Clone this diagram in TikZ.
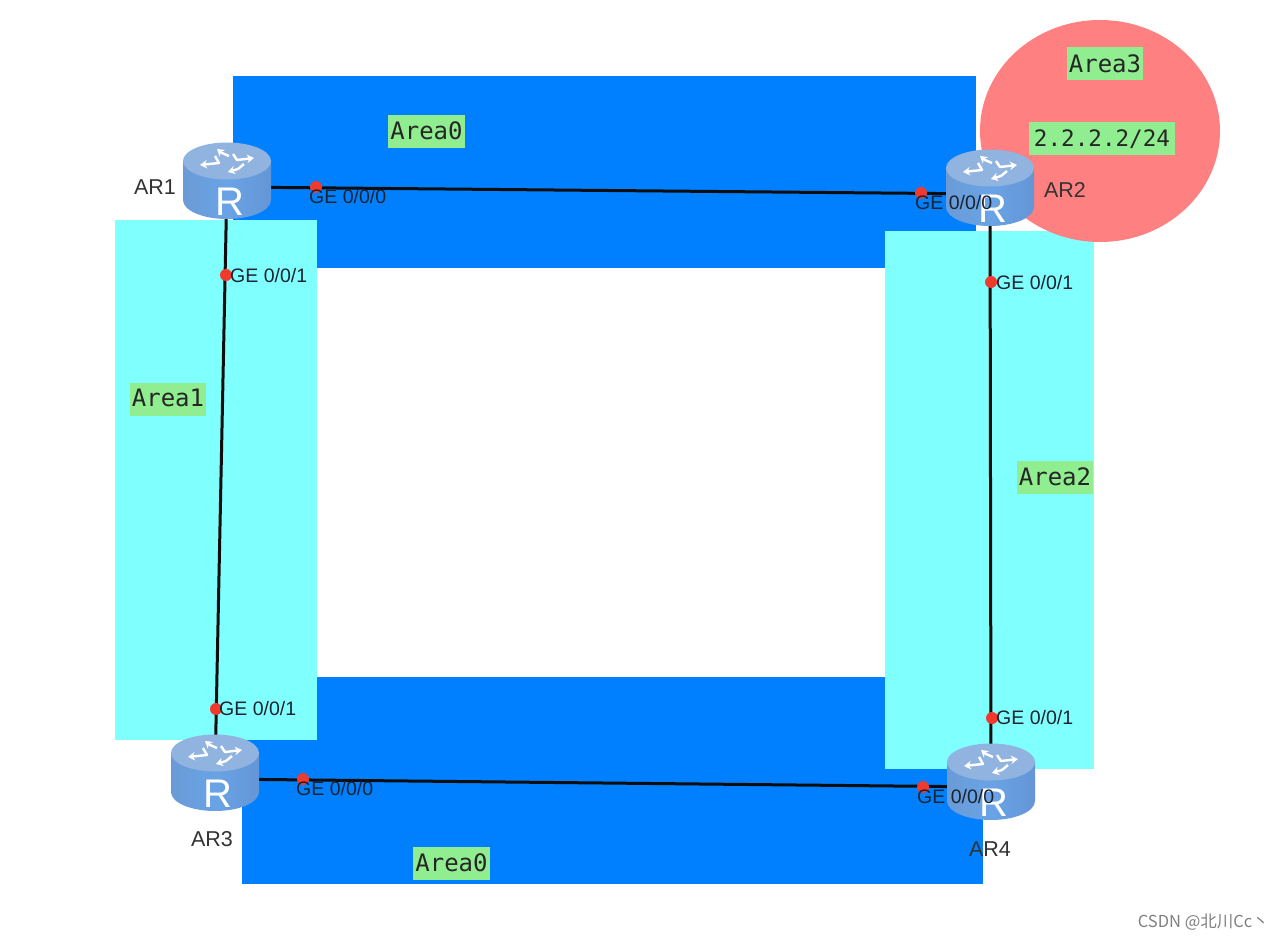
\documentclass[tikz,border=0pt]{standalone}
\usepackage{fontspec}
\setmainfont{Liberation Sans}
\newfontfamily\monolabel{DejaVu Sans Mono}
\newfontfamily\cjklabel{Noto Sans CJK SC}
\usetikzlibrary{arrows.meta}
\definecolor{areablue}{HTML}{0080FF}
\definecolor{areacyan}{HTML}{80FFFF}
\definecolor{areared}{HTML}{FF8080}
\definecolor{tagbg}{HTML}{90EE90}
\definecolor{rtop}{HTML}{90B3E0}
\definecolor{rsideL}{HTML}{6A9BD6}
\definecolor{rsideM}{HTML}{69A3E6}
\definecolor{rsideR}{HTML}{6496D6}
\definecolor{portdot}{HTML}{F03A2E}
\definecolor{labelink}{HTML}{1A2430}
\tikzset{
  x=1pt,y=-1pt,
  tag/.style={fill=tagbg,inner sep=0pt,font=\fontsize{24}{24}\monolabel,text=black!85,minimum height=33pt},
  link/.style={draw=black!95,line width=3pt},
  routerbox/.style={minimum width=88pt,minimum height=76pt,inner sep=0pt},
  portlabel/.style={font=\fontsize{19.5}{20}\selectfont,text=labelink,inner sep=0pt,anchor=west},
  rname/.style={font=\fontsize{21.5}{21}\selectfont,text=black!80,inner sep=0pt},
  dot/.style={circle,fill=portdot,minimum size=12pt,inner sep=0pt},
  rarrow/.style={draw=white,line width=2.4pt,line join=round,-{Stealth[length=7pt,width=8.5pt]}}
}
\newcommand{\tagtxt}[1]{\raisebox{1.5pt}{#1}}
\newcommand{\routerart}[1]{%
  \begin{scope}[shift={(#1.center)}]
    \shade[left color=rsideL,right color=rsideR,middle color=rsideM]
      (-44,-20) -- (-44,19) arc[start angle=180,end angle=360,x radius=44pt,y radius=19pt] -- (44,-20) -- cycle;
    \fill[rtop] (0,-20) ellipse[x radius=44pt,y radius=18.5pt];
    \draw[rarrow] (2,-25) -- (-5,-28) -- (-10,-32);
    \draw[rarrow] (-12,-25) -- (-8,-18) -- (-27,-16);
    \draw[rarrow] (6,-27) -- (10,-21) -- (27,-23);
    \draw[rarrow] (17,-17) -- (11,-12) -- (1,-9);
    \node[text=white,inner sep=0pt,font=\fontsize{40}{40}\selectfont] at (2.5,20.5) {R};
  \end{scope}}
\begin{document}
\begin{tikzpicture}
\useasboundingbox (0,0) rectangle (1282,941);
\fill[white] (0,0) rectangle (1282,941);
% areas
\path[fill=areablue] (233,76) rectangle (976,268);
\path[fill=areablue] (242,677) rectangle (983,884);
\path[fill=areacyan] (115,220) rectangle (317,740);
\path[fill=areacyan] (885,231) rectangle (1094,769);
\path[fill=areared] (1100,131) ellipse[x radius=120pt,y radius=111pt];
% routers (positions)
\node[routerbox] (ar1) at (227,181) {};
\node[routerbox] (ar2) at (990,188) {};
\node[routerbox] (ar3) at (215,773) {};
\node[routerbox] (ar4) at (991,782) {};
% links
\draw[link] ([yshift=-6pt]ar1.center) -- ([yshift=-6pt]ar2.center);
\draw[link] ([yshift=-6pt]ar3.center) -- ([yshift=-5pt]ar4.center);
\draw[link] (ar1.center) -- (ar3.center);
\draw[link] (ar2.center) -- (ar4.center);
% router art
\routerart{ar1}
\routerart{ar2}
\routerart{ar3}
\routerart{ar4}
% port dots
\node[dot] at (316,187) {};
\node[dot] at (921,193) {};
\node[dot] at (226,275) {};
\node[dot] at (991,282) {};
\node[dot] at (216,709) {};
\node[dot] at (992,718) {};
\node[dot] at (303,779) {};
\node[dot] at (923,787) {};
% port labels
\node[portlabel] at (309,197) {GE 0/0/0};
\node[portlabel] at (915,203) {GE 0/0/0};
\node[portlabel] at (230,276) {GE 0/0/1};
\node[portlabel] at (996,283) {GE 0/0/1};
\node[portlabel] at (219,709) {GE 0/0/1};
\node[portlabel] at (996,718) {GE 0/0/1};
\node[portlabel] at (296,789) {GE 0/0/0};
\node[portlabel] at (917,797) {GE 0/0/0};
% router names
\node[rname] at (155,187) {AR1};
\node[rname] at (1065,190) {AR2};
\node[rname] at (212,839) {AR3};
\node[rname] at (990,849) {AR4};
% area tags
\node[tag,minimum width=77pt] at (426.5,131.5) {\tagtxt{Area0}};
\node[tag,minimum width=76pt] at (1105,64) {\tagtxt{Area3}};
\node[tag,minimum width=146pt,font=\fontsize{22.6}{24}\monolabel] at (1102,139) {\tagtxt{2.2.2.2/24}};
\node[tag,minimum width=76pt] at (168,399) {\tagtxt{Area1}};
\node[tag,minimum width=76pt] at (1055,477) {\tagtxt{Area2}};
\node[tag,minimum width=77pt] at (451.5,863) {\tagtxt{Area0}};
% watermark
\node[font=\fontsize{16.5}{16}\cjklabel,text=black!50,inner sep=0pt,anchor=east] at (1269,922) {CSDN @北川Cc丶};
\end{tikzpicture}
\end{document}
